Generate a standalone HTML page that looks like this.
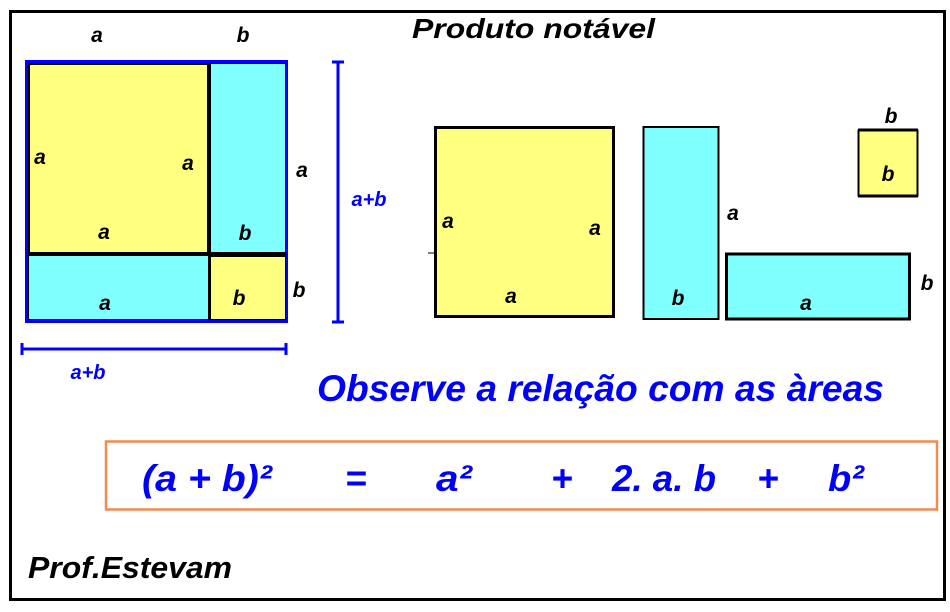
<!DOCTYPE html>
<html><head><meta charset="utf-8"><style>
html,body{margin:0;padding:0;background:#fff;}
svg{display:block;}
text{font-family:"Liberation Sans",Arial,sans-serif;font-weight:bold;font-style:italic;}
</style></head><body>
<svg width="950" height="612" viewBox="0 0 950 612">
<rect x="0" y="0" width="950" height="612" fill="#fff"/>
<rect x="10.5" y="11.5" width="934" height="588" fill="none" stroke="#000" stroke-width="3"/>

<text x="412" y="38" font-size="28" fill="#000" textLength="243" lengthAdjust="spacingAndGlyphs">Produto notável</text>
<g font-size="21" text-anchor="middle">
<text x="97" y="42">a</text>
<text x="243" y="42">b</text>
</g>

<!-- left composite -->
<rect x="25" y="60" width="263" height="263" fill="#0000ff"/>
<rect x="28" y="63" width="258" height="257" fill="#000"/>
<rect x="30" y="65" width="177" height="187" fill="#ffff80"/>
<rect x="211" y="64" width="74" height="188" fill="#80ffff"/>
<rect x="29" y="256" width="179" height="63" fill="#80ffff"/>
<rect x="211" y="257" width="74" height="62" fill="#ffff80"/>
<g font-size="21" text-anchor="middle">
<text x="40" y="164">a</text>
<text x="188" y="170">a</text>
<text x="104" y="239">a</text>
<text x="245" y="240">b</text>
<text x="105" y="310">a</text>
<text x="239" y="305">b</text>
<text x="302" y="177">a</text>
<text x="299" y="297">b</text>
</g>

<!-- dimension lines -->
<g stroke="#0000ff" stroke-width="3">
<line x1="338" y1="62" x2="338" y2="322"/>
<line x1="332" y1="62" x2="344" y2="62"/>
<line x1="332" y1="322" x2="344" y2="322"/>
<line x1="22" y1="349" x2="286" y2="349"/>
<line x1="22" y1="343" x2="22" y2="355"/>
<line x1="286" y1="343" x2="286" y2="355"/>
</g>
<text x="369" y="206" font-size="20" text-anchor="middle" fill="#0000ff">a+b</text>
<text x="88" y="379" font-size="20" text-anchor="middle" fill="#0000ff">a+b</text>

<!-- right pieces -->
<rect x="435.5" y="127.5" width="178" height="189" fill="#ffff80" stroke="#000" stroke-width="3"/>
<line x1="428" y1="253" x2="435" y2="253" stroke="#000" stroke-width="1"/>
<g font-size="21" text-anchor="middle">
<text x="448" y="228">a</text>
<text x="595" y="235">a</text>
<text x="511" y="303">a</text>
</g>

<rect x="643.5" y="127" width="75" height="192" fill="#80ffff" stroke="#000" stroke-width="2"/>
<g font-size="21" text-anchor="middle">
<text x="678" y="305">b</text>
<text x="733" y="220">a</text>
</g>

<rect x="726.5" y="254" width="183" height="65" fill="#80ffff" stroke="#000" stroke-width="3"/>
<g font-size="21" text-anchor="middle">
<text x="806" y="310">a</text>
<text x="927" y="290">b</text>
</g>

<rect x="858.5" y="130.5" width="59" height="65" fill="#ffff80" stroke="#000" stroke-width="2"/>
<line x1="858" y1="130" x2="918" y2="130" stroke="#000" stroke-width="3"/>
<line x1="858" y1="196" x2="918" y2="196" stroke="#000" stroke-width="3"/>
<g font-size="21" text-anchor="middle">
<text x="891" y="123">b</text>
<text x="888" y="181">b</text>
</g>

<text x="317" y="401" font-size="37" fill="#0000ff" textLength="567" lengthAdjust="spacingAndGlyphs">Observe a relação com as àreas</text>

<rect x="106" y="441.5" width="831" height="68" fill="#fff" stroke="#f08c50" stroke-width="2.5"/>
<g fill="#0000ff" style="font-size:37px">
<text x="142" y="491" textLength="130" lengthAdjust="spacingAndGlyphs">(a + b)²</text>
<text x="345" y="491">=</text>
<text x="436" y="491" textLength="36" lengthAdjust="spacingAndGlyphs">a²</text>
<text x="551" y="491">+</text>
<text x="612" y="491" textLength="104" lengthAdjust="spacingAndGlyphs">2. a. b</text>
<text x="757" y="491">+</text>
<text x="828" y="491" textLength="36" lengthAdjust="spacingAndGlyphs">b²</text>
</g>

<text x="28" y="578" font-size="31" fill="#000" textLength="204" lengthAdjust="spacingAndGlyphs">Prof.Estevam</text>
</svg>
</body></html>
